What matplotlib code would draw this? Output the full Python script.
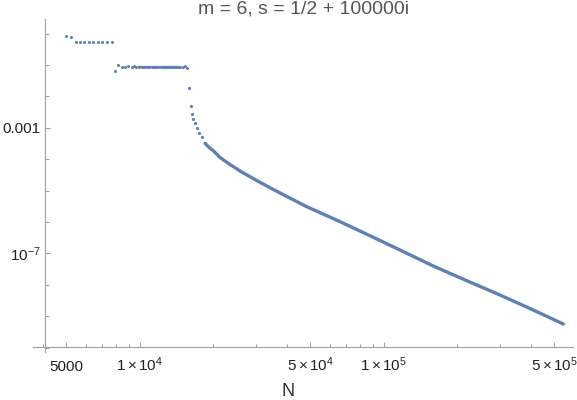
import numpy as np
import matplotlib
matplotlib.use("Agg")
import matplotlib.pyplot as plt
from matplotlib.ticker import NullFormatter

plt.rcParams['font.family'] = ['Liberation Sans', 'DejaVu Sans']
plt.rcParams['mathtext.fontset'] = 'custom'
plt.rcParams['mathtext.rm'] = 'Liberation Sans'
plt.rcParams['mathtext.it'] = 'Liberation Sans:italic'

# first plateau (separate dots)
n1 = [4970, 5228, 5467, 5678, 5929, 6197, 6453, 6727, 7025, 7345, 7679]
v1 = [0.832, 0.757, 0.54, 0.54, 0.54, 0.54, 0.54, 0.54, 0.54, 0.54, 0.54]

# second plateau
n2 = [7922, 8175, 8464, 8707, 8981, 9272, 9475, 9656,
      9934, 10180, 10430, 10680, 10930, 11180, 11430, 11680, 11930,
      12180, 12430, 12680, 12930, 13180, 13430, 13680, 13930, 14180,
      14356, 14630, 15090, 15340, 15670]
v2 = [0.0625, 0.0993, 0.0877, 0.0839, 0.0943, 0.0839, 0.0902, 0.086,
      0.088, 0.088, 0.088, 0.088, 0.088, 0.088, 0.088, 0.088, 0.088,
      0.088, 0.088, 0.088, 0.088, 0.088, 0.088, 0.088, 0.088, 0.088,
      0.088, 0.0877, 0.0839, 0.0923, 0.078]

# drop after the plateau
n3 = [15923, 16180, 16380, 16585, 16851, 17222, 17550, 17953, 18520]
v3 = [0.018, 0.00502, 0.00273, 0.00185, 0.00138, 0.000957, 0.000663,
      0.000495, 0.000318]

# dense tail
n4 = [18520, 19418, 20030, 21335, 23450, 25770, 30170, 35280, 48350,
      66220, 90660, 116650, 159700, 218900, 299700, 410400, 544600]
v4 = [0.000318, 0.000221, 0.000185, 1.125e-4, 6.73e-5, 4.18e-5, 2.08e-5,
      1.076e-5, 3.05e-6, 1.02e-6, 3.23e-7, 1.27e-7, 3.94e-8, 1.34e-8,
      4.70e-9, 1.56e-9, 5.60e-10]

xmaj = [5000, 1e4, 5e4, 1e5, 5e5]
xmaj_lab = ['5000', r'$\mathregular{1\times10^{4}}$', r'$\mathregular{5\times10^{4}}$',
            r'$\mathregular{1\times10^{5}}$', r'$\mathregular{5\times10^{5}}$']
xmin_t = [4000, 6000, 7000, 8000, 9000, 2e4, 3e4, 4e4, 6e4, 7e4, 8e4, 9e4,
          2e5, 3e5, 4e5]
ymaj = [1e-7, 1e-3]
ymaj_lab = [r'$\mathregular{10^{-7}}$', '0.001']
ymin_t = [1e0, 1e-1, 1e-2, 1e-4, 1e-5, 1e-6, 1e-8, 1e-9, 1e-10]

col = '#5E81B5'
axcol = '#a0a0a0'

fig = plt.figure(figsize=(5.77, 4.0), dpi=100)
ax = fig.add_axes([33/577, 1-352/400, 540/577, 333/400])
ax.set_xscale('log')
ax.set_yscale('log')

ax.plot(n1, v1, 'o', color=col, ms=2.2, mew=0)
ax.plot(n2, v2, 'o', color=col, ms=2.2, mew=0)
ax.plot(n2[8:27], v2[8:27], '-', color=col, lw=1.6)
ax.plot(n3, v3, 'o', color=col, ms=2.3, mew=0)
ax.plot(n4, v4, '-', color=col, lw=2.4, solid_capstyle='round')

ax.set_xlim(3653, 596900)
ax.set_ylim(7.19e-11, 2.896)

for s in ['top', 'right']:
    ax.spines[s].set_visible(False)
ax.spines['left'].set_position(('data', 4090))
ax.spines['bottom'].set_position(('data', 1.04e-10))
for s in ['left', 'bottom']:
    ax.spines[s].set_color(axcol)
    ax.spines[s].set_linewidth(0.8)

ax.set_xticks(xmaj)
ax.set_xticklabels(xmaj_lab)
ax.set_xticks(xmin_t, minor=True)
ax.xaxis.set_minor_formatter(NullFormatter())
ax.set_yticks(ymaj)
ax.set_yticklabels(ymaj_lab)
ax.set_yticks(ymin_t, minor=True)
ax.yaxis.set_minor_formatter(NullFormatter())

ax.tick_params(axis='x', which='major', direction='in', length=3.3, width=0.8,
               color=axcol, labelsize=11, labelcolor='#222222', pad=17)
ax.tick_params(axis='x', which='minor', direction='in', length=1.9, width=0.8,
               color=axcol)
ax.tick_params(axis='y', which='major', direction='in', length=3.6, width=0.8,
               color=axcol, labelsize=11, labelcolor='#222222', pad=3)
ax.tick_params(axis='y', which='minor', direction='in', length=3.0, width=0.8,
               color=axcol)
for lab in ax.get_xticklabels():
    lab.set_verticalalignment('baseline')

fig.text(304/577, 1-9.5/400, 'm = 6, s = 1/2 + 100000i', ha='center', va='center',
         fontsize=14, color='#555555')
fig.text(288/577, 1-391/400, 'N', ha='center', va='center', fontsize=13,
         color='#333333')

fig.savefig('out.png', dpi=100)
